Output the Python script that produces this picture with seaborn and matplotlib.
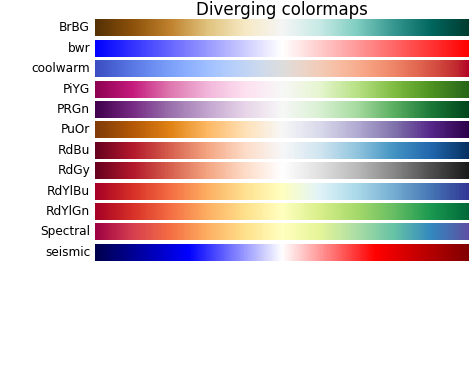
import numpy as np
import matplotlib
matplotlib.use("Agg")
import matplotlib.pyplot as plt
import seaborn as sns

cmap_category = "Diverging"
cmap_list = ["BrBG", "bwr", "coolwarm", "PiYG", "PRGn", "PuOr",
             "RdBu", "RdGy", "RdYlBu", "RdYlGn", "Spectral", "seismic"]
nrows = 18
n_steps = 256

gradient = np.linspace(0, 1, n_steps)
gradient = np.vstack((gradient, gradient))

sns.set_style("white")
plt.rcParams['font.family'] = ['DejaVu Sans']
plt.rcParams['text.color'] = 'black'

fig, axes = plt.subplots(nrows=nrows, figsize=(4.74, 3.87), dpi=100)
fig.subplots_adjust(top=0.95, bottom=0.01, left=0.2, right=0.99)
axes[0].set_title(cmap_category + ' colormaps', fontsize=12, pad=3, color='black')

for ax, name in zip(axes, cmap_list):
    sns.heatmap(gradient, cmap=name, cbar=False, ax=ax,
                xticklabels=False, yticklabels=False, rasterized=True)
    pos = list(ax.get_position().bounds)
    x_text = pos[0] - 0.01
    y_text = pos[1] + pos[3] / 2.
    fig.text(x_text, y_text, name, va='center', ha='right', fontsize=8.7,
             color='black')

for ax in axes:
    ax.set_axis_off()

fig.savefig("out.png", dpi=100)
